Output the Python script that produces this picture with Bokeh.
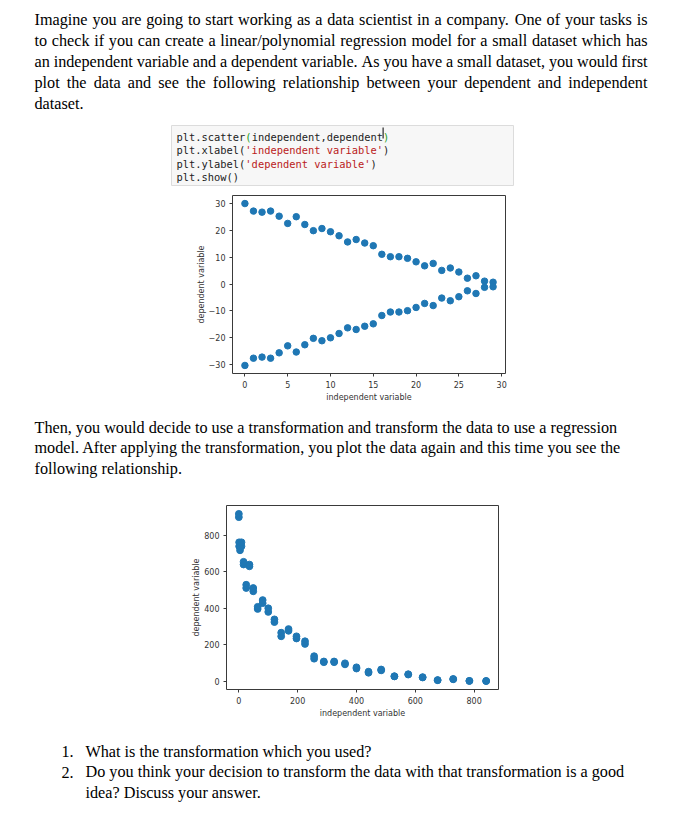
from bokeh.plotting import figure
from bokeh.layouts import column, row
from bokeh.models import Range1d, FixedTicker
from bokeh.core.properties import value
from bokeh.embed import file_html
from bokeh.resources import INLINE

# ---------------- data ----------------
independent = [0, 1, 2, 3, 4, 5, 6, 7, 8, 9, 10, 11, 12, 13, 14,
               15, 16, 17, 18, 19, 20, 21, 22, 23, 24, 25, 26, 27, 28, 29]
dependent_upper = [30.0, 27.2, 26.8, 27.2, 25.3, 22.6, 25.1, 22.2, 19.9, 20.7,
                   19.5, 18.0, 15.7, 16.6, 15.3, 14.3, 11.1, 10.2, 10.2, 9.6,
                   8.3, 6.8, 7.7, 5.1, 6.0, 4.5, 2.2, 3.1, 1.1, 0.7]
dependent_lower = [-30.3, -27.6, -27.2, -27.6, -25.6, -23.0, -25.3, -22.6, -20.2, -21.1,
                   -20.0, -18.4, -16.3, -16.9, -15.7, -14.8, -11.7, -10.4, -10.4, -9.9,
                   -8.7, -7.2, -8.0, -5.2, -6.2, -4.7, -2.5, -3.5, -1.2, -1.0]

indep_transformed = [0, 1, 4, 9, 16, 25, 36, 49, 64, 81, 100, 121, 144, 169, 196,
                     225, 256, 289, 324, 361, 400, 441, 484, 529, 576, 625, 676, 729, 784, 841]
dep_transformed_upper = [900, 740, 718, 740, 640, 511, 630, 493, 396, 428,
                         380, 324, 246, 276, 234, 204, 123, 104, 104, 92,
                         69, 46, 59, 26, 36, 20, 5, 10, 1, 0.5]
dep_transformed_lower = [918, 762, 740, 762, 655, 529, 640, 511, 408, 445,
                         400, 339, 266, 286, 246, 219, 137, 108, 108, 98,
                         76, 52, 64, 27, 38, 22, 6, 12, 1.4, 1]

x_ticks_1 = [0, 5, 10, 15, 20, 25, 30]
y_ticks_1 = [-30, -20, -10, 0, 10, 20, 30]
x_ticks_2 = [0, 200, 400, 600, 800]
y_ticks_2 = [0, 200, 400, 600, 800]

para1 = [
    "Imagine you are going to start working as a data scientist in a company. One of your tasks is",
    "to check if you can create a linear/polynomial regression model for a small dataset which has",
    "an independent variable and a dependent variable. As you have a small dataset, you would first",
    "plot the data and see the following relationship between your dependent and independent",
    "dataset.",
]
para2 = [
    "Then, you would decide to use a transformation and transform the data to use a regression",
    "model. After applying the transformation, you plot the data again and this time you see the",
    "following relationship.",
]
list_items = [
    ("1.", "What is the transformation which you used?"),
    ("2.", "Do you think your decision to transform the data with that transformation is a good"),
    ("", "idea? Discuss your answer."),
]

BLUE = "#1f77b4"
AX = "#3a3a3a"
SERIF = "Liberation Serif"
FS = 16.2
FS_STR = "16.2px"
W = 684
OX = 0  # the page origin in the screenshot

TW = {' ': 250, 'a': 444, 'b': 500, 'c': 444, 'd': 500, 'e': 444, 'f': 333, 'g': 500,
      'h': 500, 'i': 278, 'j': 278, 'k': 500, 'l': 278, 'm': 778, 'n': 500, 'o': 500,
      'p': 500, 'q': 500, 'r': 333, 's': 389, 't': 278, 'u': 500, 'v': 500, 'w': 722,
      'x': 500, 'y': 500, 'z': 444, 'A': 722, 'I': 333, 'O': 722, 'T': 611, 'D': 722,
      'W': 944, '.': 250, ',': 250, '/': 278, '?': 444}


def tw(s, fs=FS):
    return sum(TW.get(c, 500) for c in s) * fs / 1000.0


def text_fig(h):
    p = figure(width=W, height=h, x_range=Range1d(0, W), y_range=Range1d(h, 0),
               output_backend="svg", toolbar_location=None,
               x_axis_type=None, y_axis_type=None, min_border=0,
               outline_line_color=None)
    p.xgrid.visible = False
    p.ygrid.visible = False
    p.background_fill_color = "white"
    p.border_fill_color = "white"
    return p


def put(p, oy, xs, ys, texts, font=SERIF, size=FS_STR, color="#000000"):
    p.text(x=[x - OX for x in xs], y=[y - oy for y in ys], text=texts,
           text_font=value(font), text_font_size=value(size), text_color=color,
           text_align="left", text_baseline="alphabetic")


# ---------------- text block 1 (paragraph + code) ----------------
OY_A = 0
pa = text_fig(190)
left, right = 34, 647
for i, line in enumerate(para1):
    base = 19 + 21 * i
    if i < 4:
        words = line.split(" ")
        ws = [tw(w) for w in words]
        gap = (right - left - sum(ws)) / (len(words) - 1)
        xs, x = [], left
        for wv in ws:
            xs.append(x)
            x += wv + gap
        put(pa, OY_A, xs, [base] * len(words), words)
    else:
        put(pa, OY_A, [left], [base], [line])

# code cell
pa.quad(left=171 - OX, right=513 - OX, top=125 - OY_A, bottom=185 - OY_A,
        fill_color="#f7f7f7", line_color="#dcdcdc", line_width=1)
CFS = 10.4
CW = 0.602 * CFS
cx0 = 176
code_lines = [
    [("plt.scatter", "#222222"), ("(", "#22a022"), ("independent,dependent", "#222222"), (")", "#22a022")],
    [("plt.xlabel(", "#222222"), ("'independent variable'", "#ba2121"), (")", "#222222")],
    [("plt.ylabel(", "#222222"), ("'dependent variable'", "#ba2121"), (")", "#222222")],
    [("plt.show()", "#222222")],
]
code_base = [136, 149.6, 163.2, 176.8]
for line, base in zip(code_lines, code_base):
    n = 0
    for seg, col in line:
        put(pa, OY_A, [cx0 + n * CW], [base], [seg], font="DejaVu Sans Mono",
            size="%.1fpx" % CFS, color=col)
        n += len(seg)
# cursor
cur_x = cx0 + 33 * CW
pa.segment(x0=[cur_x - OX], x1=[cur_x - OX], y0=[127 - OY_A], y1=[138 - OY_A],
           line_color="#000000", line_width=1)


def style(p, xt, yt):
    p.xgrid.visible = False
    p.ygrid.visible = False
    p.outline_line_color = AX
    p.outline_line_width = 1
    p.background_fill_color = "white"
    p.border_fill_color = "white"
    for ax in p.axis:
        ax.axis_line_color = None
        ax.major_tick_line_color = AX
        ax.major_tick_out = 3
        ax.major_tick_in = 0
        ax.minor_tick_line_color = None
        ax.major_label_text_font = "DejaVu Sans"
        ax.major_label_text_font_size = "8px"
        ax.major_label_text_color = "#333333"
        ax.axis_label_text_font = "DejaVu Sans"
        ax.axis_label_text_font_size = "8px"
        ax.axis_label_text_font_style = "normal"
        ax.axis_label_text_color = "#333333"
    p.xaxis.ticker = FixedTicker(ticks=xt)
    p.yaxis.ticker = FixedTicker(ticks=yt)
    p.xaxis.major_label_standoff = 4
    p.xaxis.axis_label_standoff = 2
    p.yaxis.major_label_standoff = 4
    p.yaxis.axis_label_standoff = 0
    p.xaxis.axis_label = "independent variable"
    p.yaxis.axis_label = "dependent variable"


# ---------------- scatter 1 ----------------
p1 = figure(width=W, height=215, x_range=Range1d(-1.45, 30.45), y_range=Range1d(-33.3, 33.0),
            output_backend="svg", toolbar_location=None,
            min_border_left=232 - OX, min_border_right=W + OX - 505,
            min_border_top=5, min_border_bottom=32)
style(p1, x_ticks_1, y_ticks_1)
p1.yaxis.major_label_overrides = {t: ("\u2212%d" % -t if t < 0 else str(t)) for t in y_ticks_1}
p1.scatter(independent, dependent_upper, size=6.5, fill_color=BLUE, line_color=BLUE)
p1.scatter(independent, dependent_lower, size=6.5, fill_color=BLUE, line_color=BLUE)

# ---------------- text block 2 ----------------
OY_B = 405
pb = text_fig(95)
for i, line in enumerate(para2):
    put(pb, OY_B, [34], [427 + 20.8 * i], [line])

# ---------------- scatter 2 ----------------
p2 = figure(width=W, height=220, x_range=Range1d(-42, 883), y_range=Range1d(-45.9, 963.9),
            output_backend="svg", toolbar_location=None,
            min_border_left=226 - OX, min_border_right=W + OX - 498,
            min_border_top=5, min_border_bottom=29)
style(p2, x_ticks_2, y_ticks_2)
p2.scatter(indep_transformed, dep_transformed_upper, size=6.8, fill_color=BLUE, line_color=BLUE)
p2.scatter(indep_transformed, dep_transformed_lower, size=6.8, fill_color=BLUE, line_color=BLUE)

# ---------------- text block 3 ----------------
OY_C = 720
pc = text_fig(90)
for i, (num, txt) in enumerate(list_items):
    base = 751 + 20.6 * i
    if num:
        put(pc, OY_C, [61], [base], [num])
    put(pc, OY_C, [85], [base], [txt])

# wrap each figure in its own row so that plot frames are not aligned with each other
layout = column(row(pa), row(p1), row(pb), row(p2), row(pc), spacing=0)
open("out.html", "w").write(file_html(layout, INLINE))
